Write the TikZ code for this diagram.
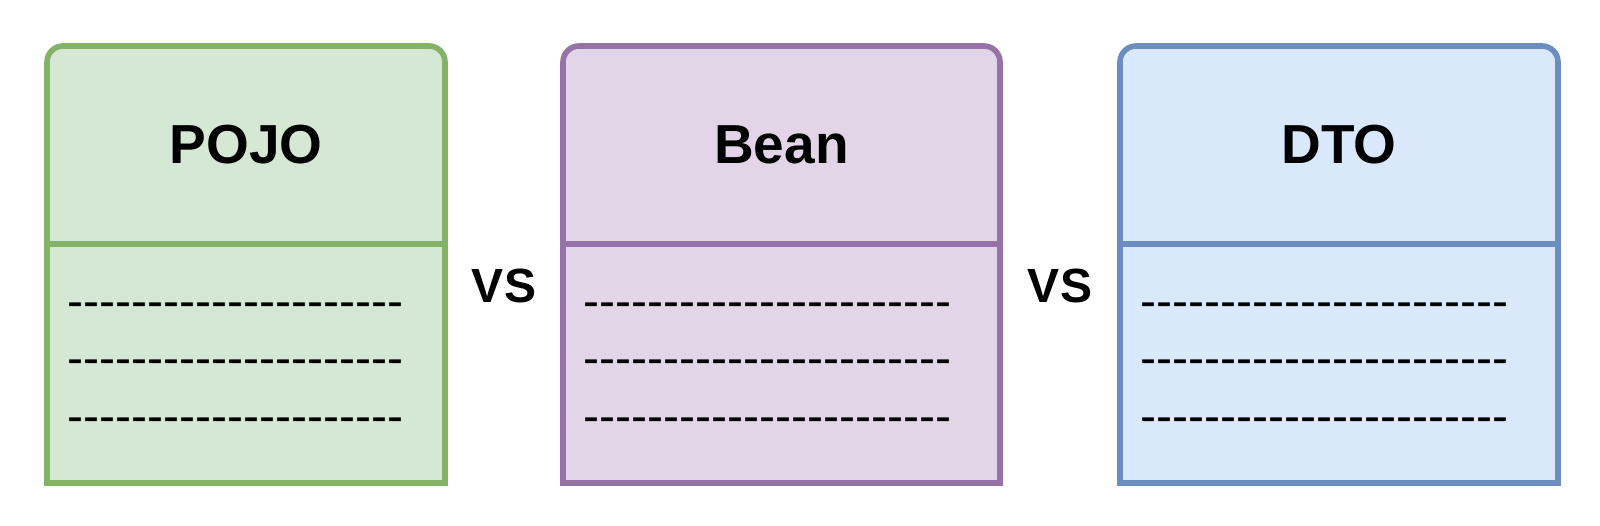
\documentclass[tikz,border=0pt]{standalone}
\usepackage{fontspec}
\setmainfont{Liberation Sans}[Ligatures=TeXOff]
\usetikzlibrary{positioning,calc}

\definecolor{pojofill}{HTML}{D5E8D4}
\definecolor{pojoline}{HTML}{82B366}
\definecolor{beanfill}{HTML}{E1D5E7}
\definecolor{beanline}{HTML}{9673A6}
\definecolor{dtofill}{HTML}{DAE8FC}
\definecolor{dtoline}{HTML}{6C8EBF}

\begin{document}
\begin{tikzpicture}[x=1pt,y=1pt,node distance=28.75pt,on grid,
    classbox/.style={draw,line width=2.8pt,rounded corners=8pt,minimum height=218.5pt},
    classbody/.style={draw,line width=2.8pt,minimum height=119.5pt,anchor=south},
    title/.style={font=\fontsize{27.5}{30}\selectfont\bfseries,anchor=base},
    field/.style={font=\fontsize{24}{28.75}\selectfont,inner sep=0pt},
    vs/.style={font=\fontsize{24}{30}\selectfont\bfseries}]
    \useasboundingbox (0,0) rectangle (800,-262.5);
    % POJO
    \node[classbox,fill=pojofill,draw=pojoline,minimum width=199pt] (pojo) at (123,-132.25) {};
    \node[classbody,fill=pojofill,draw=pojoline,minimum width=199pt] (pojo_body) at (pojo.south) {};
    \node[title] (pojo_title) at ([yshift=-60pt]pojo.north) {POJO};
    \node[field,anchor=base west] (pojo_f1) at ([xshift=11.4pt,yshift=-38pt]pojo_body.north west) {---------------------};
    \node[field] (pojo_f2) [below=of pojo_f1] {---------------------};
    \node[field] (pojo_f3) [below=of pojo_f2] {---------------------};
    % Bean
    \node[classbox,fill=beanfill,draw=beanline,minimum width=218.5pt] (bean) at (390.75,-132.25) {};
    \node[classbody,fill=beanfill,draw=beanline,minimum width=218.5pt] (bean_body) at (bean.south) {};
    \node[title] (bean_title) at ([yshift=-60pt]bean.north) {Bean};
    \node[field,anchor=base west] (bean_f1) at ([xshift=11.4pt,yshift=-38pt]bean_body.north west) {-----------------------};
    \node[field] (bean_f2) [below=of bean_f1] {-----------------------};
    \node[field] (bean_f3) [below=of bean_f2] {-----------------------};
    % DTO
    \node[classbox,fill=dtofill,draw=dtoline,minimum width=219pt] (dto) at (669.5,-132.25) {};
    \node[classbody,fill=dtofill,draw=dtoline,minimum width=219pt] (dto_body) at (dto.south) {};
    \node[title] (dto_title) at ([yshift=-60pt]dto.north) {DTO};
    \node[field,anchor=base west] (dto_f1) at ([xshift=11.4pt,yshift=-38pt]dto_body.north west) {-----------------------};
    \node[field] (dto_f2) [below=of dto_f1] {-----------------------};
    \node[field] (dto_f3) [below=of dto_f2] {-----------------------};
    % VS
    \node[vs] (vs_1) at ($(pojo.east)!.5!(bean.west)+(0,-10.5)$) {VS};
    \node[vs] (vs_2) at ($(bean.east)!.5!(dto.west)+(0,-10.5)$) {VS};
\end{tikzpicture}
\end{document}
